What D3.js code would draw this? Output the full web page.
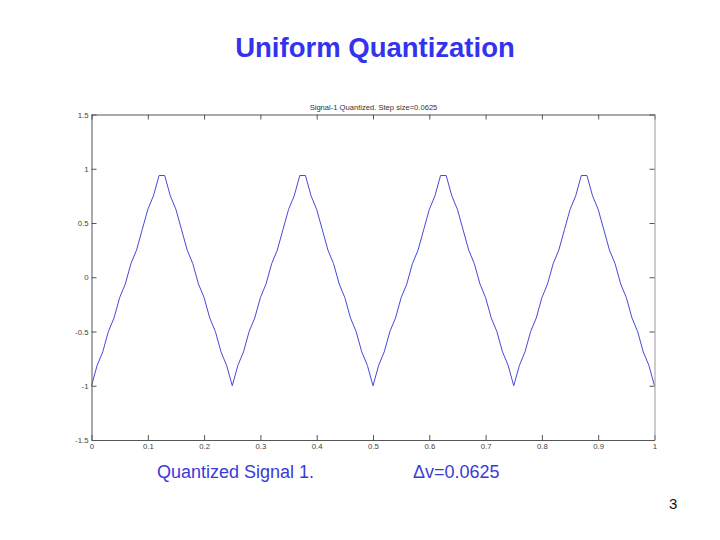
<!DOCTYPE html>
<html><head><meta charset="utf-8">
<script src="https://cdn.jsdelivr.net/npm/d3@7"></script>
<style>body{margin:0;background:#fff}svg{display:block}</style>
</head><body>
<svg id="c" width="720" height="540"></svg>
<script>
// sample times 0..1 step 0.01
const times = d3.range(0, 101).map(i => i / 100);
// quantized signal values (step 0.0625)
const values = [
  -1, -0.8125, -0.6875, -0.5, -0.375, -0.1875, -0.0625, 0.125, 0.25, 0.4375, 0.625, 0.75, 0.9375,
  0.9375, 0.75, 0.625, 0.4375, 0.25, 0.125, -0.0625, -0.1875, -0.375, -0.5, -0.6875, -0.8125,
  -1, -0.8125, -0.6875, -0.5, -0.375, -0.1875, -0.0625, 0.125, 0.25, 0.4375, 0.625, 0.75, 0.9375,
  0.9375, 0.75, 0.625, 0.4375, 0.25, 0.125, -0.0625, -0.1875, -0.375, -0.5, -0.6875, -0.8125,
  -1, -0.8125, -0.6875, -0.5, -0.375, -0.1875, -0.0625, 0.125, 0.25, 0.4375, 0.625, 0.75, 0.9375,
  0.9375, 0.75, 0.625, 0.4375, 0.25, 0.125, -0.0625, -0.1875, -0.375, -0.5, -0.6875, -0.8125,
  -1, -0.8125, -0.6875, -0.5, -0.375, -0.1875, -0.0625, 0.125, 0.25, 0.4375, 0.625, 0.75, 0.9375,
  0.9375, 0.75, 0.625, 0.4375, 0.25, 0.125, -0.0625, -0.1875, -0.375, -0.5, -0.6875, -0.8125,
  -1
];
const xTicks = [0, 0.1, 0.2, 0.3, 0.4, 0.5, 0.6, 0.7, 0.8, 0.9, 1];
const yTicks = [-1.5, -1, -0.5, 0, 0.5, 1, 1.5];
const xTickLabels = ["0", "0.1", "0.2", "0.3", "0.4", "0.5", "0.6", "0.7", "0.8", "0.9", "1"];
const yTickLabels = ["-1.5", "-1", "-0.5", "0", "0.5", "1", "1.5"];

const svg = d3.select("#c");
const L = 91.5, R = 654.5, T = 114.5, B = 440;
const x = d3.scaleLinear().domain([0, 1]).range([L, R]);
const y = d3.scaleLinear().domain([-1.5, 1.5]).range([B, T]);
const axisColor = "#555";
const font = "Arial, 'Liberation Sans', sans-serif";

svg.append("text").attr("x", 375).attr("y", 57).attr("text-anchor", "middle")
  .attr("font-family", font).attr("font-weight", "bold").attr("font-size", 27.5)
  .attr("fill", "#3333ee").text("Uniform Quantization");

svg.append("text").attr("x", 373.5).attr("y", 110).attr("text-anchor", "middle")
  .attr("font-family", font).attr("font-size", 7.6).attr("fill", "#333")
  .text("Signal-1 Quantized. Step size=0.0625");

// line
svg.append("path").datum(times.map((t, i) => [t, values[i]]))
  .attr("fill", "none").attr("stroke", "#4848d8").attr("stroke-width", 1)
  .attr("d", d3.line().x(d => x(d[0])).y(d => y(d[1])));

function styleAxis(g) {
  g.selectAll("path").attr("stroke", axisColor);
  g.selectAll("line").attr("stroke", axisColor);
  g.selectAll("text").attr("fill", "#444").attr("font-family", font).attr("font-size", 7.8);
}
const gBottom = svg.append("g").attr("transform", `translate(0,${B})`)
  .call(d3.axisBottom(x).tickValues(xTicks).tickFormat((d, i) => xTickLabels[i]).tickSizeInner(-5).tickSizeOuter(0).tickPadding(4));
styleAxis(gBottom);
gBottom.selectAll("text").attr("dy", "0.71em").attr("y", 3);
const gTop = svg.append("g").attr("transform", `translate(0,${T})`)
  .call(d3.axisTop(x).tickValues(xTicks).tickFormat("").tickSizeInner(-5).tickSizeOuter(0));
styleAxis(gTop);
const gLeft = svg.append("g").attr("transform", `translate(${L},0)`)
  .call(d3.axisLeft(y).tickValues(yTicks).tickFormat((d, i) => yTickLabels[i]).tickSizeInner(-5).tickSizeOuter(0).tickPadding(3));
styleAxis(gLeft);
gLeft.selectAll("text").attr("x", -3);
const gRight = svg.append("g").attr("transform", `translate(${R},0)`)
  .call(d3.axisRight(y).tickValues(yTicks).tickFormat("").tickSizeInner(-5).tickSizeOuter(0));
styleAxis(gRight);
gRight.selectAll("path").attr("stroke", "#999");

svg.append("text").attr("x", 157).attr("y", 478).attr("font-family", font).attr("font-size", 18)
  .attr("fill", "#3a3ad8").text("Quantized Signal 1.");
svg.append("text").attr("x", 413).attr("y", 478).attr("font-family", font).attr("font-size", 18)
  .attr("fill", "#3a3ad8").text("Δv=0.0625");
svg.append("text").attr("x", 669).attr("y", 509).attr("font-family", font).attr("font-size", 15)
  .attr("fill", "#111").text("3");
</script>
</body></html>
